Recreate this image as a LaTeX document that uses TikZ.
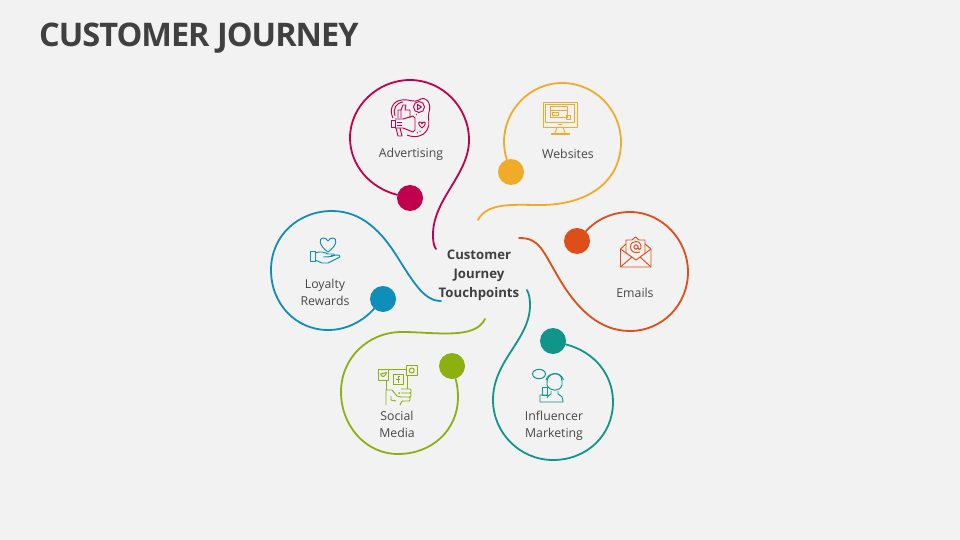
\documentclass[tikz,border=0pt]{standalone}
\usepackage{fontspec}
\setmainfont{Open Sans}
\definecolor{pagebg}{HTML}{F2F2F2}
\definecolor{titlegray}{HTML}{404040}
\definecolor{labelgray}{HTML}{474747}
\definecolor{advred}{HTML}{C0004E}
\definecolor{webyellow}{HTML}{F0AC28}
\definecolor{mailorange}{HTML}{DE4E18}
\definecolor{inflteal}{HTML}{10958A}
\definecolor{socgreen}{HTML}{8CB010}
\definecolor{loyblue}{HTML}{0E8EB8}
\tikzset{
  petal/.style={line width=1.8pt, line cap=round},
  dot/.style={circle, fill=#1, draw=none, minimum size=26pt, inner sep=0pt},
  icon/.style={line width=0.95pt, draw=#1, line join=round},
  lbl/.style={font=\fontsize{12.3}{17}\selectfont, text=labelgray, align=center},
}
\begin{document}
\begin{tikzpicture}[x=1pt, y=-1pt]
    \fill[pagebg] (0,0) rectangle (960,540);
    \node[anchor=base west, inner sep=0pt, font=\fontsize{32.5}{36}\bfseries\addfontfeatures{LetterSpace=-3.1}\selectfont, text=titlegray] (title) at (39,46.5) {CUSTOMER JOURNEY};
    \node[font=\fontsize{13.2}{19}\bfseries\selectfont, text=titlegray, align=center] (center) at (479,275) {Customer\\Journey\\Touchpoints};

    % dots and free ends
    \node[dot=advred] (advdot) at (410,198) {};
    \node[dot=webyellow] (webdot) at (511,172) {};
    \node[dot=mailorange] (maildot) at (577,241) {};
    \node[dot=inflteal] (infldot) at (553,341) {};
    \node[dot=socgreen] (socdot) at (452,366) {};
    \node[dot=loyblue] (loydot) at (383,299) {};
    \coordinate (advend) at (436,249);
    \coordinate (webend) at (478,220);
    \coordinate (mailend) at (519,238);
    \coordinate (inflend) at (527,290);
    \coordinate (socend) at (485,319);
    \coordinate (loyend) at (441,301);

    % petals
    \draw[petal, advred] (advdot) .. controls (370,188) and (350,165) .. (350,138)
        .. controls (350,106) and (378,80) .. (410,80)
        .. controls (442,80) and (469,107) .. (469,140)
        .. controls (469,175) and (432,200) .. (433,236)
        .. controls (433,242) and (434,246) .. (advend);
    \draw[petal, webyellow] (webdot) .. controls (505,154) and (504,148) .. (504,142)
        .. controls (504,110) and (530,83) .. (562,83)
        .. controls (595,83) and (621,110) .. (621,142)
        .. controls (621,180) and (590,205) .. (540,205)
        .. controls (515,205) and (487,202) .. (webend);
    \draw[petal, mailorange] (maildot) .. controls (597,219) and (613,212) .. (630,212)
        .. controls (662,212) and (688,240) .. (688,272)
        .. controls (688,305) and (662,331) .. (630,331)
        .. controls (600,331) and (578,310) .. (560,280)
        .. controls (542,250) and (540,238) .. (mailend);
    \draw[petal, inflteal] (infldot) .. controls (595,352) and (613,375) .. (613,402)
        .. controls (613,435) and (587,460) .. (553,460)
        .. controls (520,460) and (493,433) .. (493,400)
        .. controls (493,360) and (530,340) .. (530,305)
        .. controls (530,298) and (529,294) .. (inflend);
    \draw[petal, socgreen] (socdot) .. controls (457,384) and (458,390) .. (458,397)
        .. controls (458,430) and (432,454) .. (398,454)
        .. controls (365,454) and (341,425) .. (341,392)
        .. controls (341,358) and (368,332) .. (402,332)
        .. controls (435,332) and (475,340) .. (socend);
    \draw[petal, loyblue] (loydot) .. controls (362,322) and (346,330) .. (328,330)
        .. controls (296,330) and (271,304) .. (271,270)
        .. controls (271,236) and (298,211) .. (332,211)
        .. controls (362,211) and (382,232) .. (398,258)
        .. controls (415,285) and (425,301) .. (loyend);

    % labels
    \node[lbl] (advlabel) at (411,154) {Advertising};
    \node[lbl] (weblabel) at (568,154) {Websites};
    \node[lbl] (maillabel) at (635,293) {Emails};
    \node[lbl] (infllabel) at (554,425.5) {Influencer\\Marketing};
    \node[lbl] (soclabel) at (397,424.5) {Social\\Media};
    \node[lbl] (loylabel) at (325,292.5) {Loyalty\\Rewards};

    % advertising icon
    \draw[icon=advred] (393,118) .. controls (389,110) and (392,101) .. (402,100)
        .. controls (410,99) and (414,103) .. (419,100) .. controls (426,95) and (432,104) .. (429,112)
        .. controls (427,118) and (431,124) .. (427,130) .. controls (423,137) and (414,138) .. (407,135);
    \draw[icon=advred] (395,116) .. controls (393,108) and (396,103) .. (403,102);
    \draw[icon=advred] (419,107) circle (5.5);
    \draw[icon=advred] (417.5,104.5) -- (421.5,107) -- (417.5,109.5) -- cycle;
    \draw[icon=advred] (398,118) -- (398,110) -- (401,110) (401,118) -- (401,110) -- (403,105) -- (406,105) -- (405,110) -- (410,110) -- (410,118);
    \draw[icon=advred] (422,128) .. controls (418,125) and (418,122) .. (420,122) .. controls (421,122) and (422,123) .. (422,124)
        .. controls (422,123) and (423,122) .. (424,122) .. controls (426,122) and (426,125) .. (422,128);
    \draw[icon=advred] (391,120) rectangle (395,127);
    \draw[icon=advred] (395,119) -- (403,119) -- (413,116) -- (415,118) -- (415,130) -- (413,132) -- (403,128) -- (395,128);
    \draw[icon=advred] (397,122) -- (402,122) (397,125) -- (402,125);
    \draw[icon=advred] (396,128) -- (398,136) -- (402,136) -- (400,128);
    \draw[icon=advred, dotted] (416,115) -- (419,112) (417,133) -- (421,131);

    % websites icon
    \draw[icon=webyellow] (543,102) rectangle (577,127);
    \draw[icon=webyellow] (545.5,104) rectangle (574.5,122);
    \draw[icon=webyellow] (550,106) rectangle (567,117);
    \draw[icon=webyellow] (550,110) -- (567,110);
    \draw[icon=webyellow] (552,112) rectangle (558,115);
    \draw[icon=webyellow] (566,115) rectangle (570,119);
    \draw[icon=webyellow] (557,127) -- (555,133) (563,127) -- (565,133);
    \draw[icon=webyellow] (551,133) rectangle (569,134);
    \draw[icon=webyellow] (558,124.5) -- (562,124.5);

    % emails icon
    \draw[icon=mailorange] (620.5,249) -- (620.5,267) -- (651,267) -- (651,249) -- (645,244);
    \draw[icon=mailorange] (620.5,249) -- (626,244);
    \draw[icon=mailorange] (626,254) -- (626,240) -- (632,240) -- (635.5,237) -- (639,240) -- (645,240) -- (645,254);
    \draw[icon=mailorange] (620.5,249) -- (636,260) -- (651,249);
    \draw[icon=mailorange] (620.5,267) -- (632,257) (651,267) -- (640,257);
    \draw[icon=mailorange] (640,252) .. controls (634,254) and (630.5,251) .. (630.5,247) .. controls (630.5,243) and (633,241.5) .. (636,241.5)
        .. controls (639,241.5) and (641.5,244) .. (641,248) .. controls (640.5,250) and (638,250) .. (638,248);
    \draw[icon=mailorange] (636,247) circle (2.1);

    % influencer icon
    \draw[icon=inflteal] (539,374) ellipse (6.5 and 4.7);
    \draw[icon=inflteal] (547,383) .. controls (546,372) and (562,370) .. (562,381) -- (562,385)
        .. controls (560,392) and (550,392) .. (547,385) -- cycle;
    \draw[icon=inflteal] (546,380) .. controls (548,372) and (561,371) .. (563.5,380);
    \draw[icon=inflteal] (551,391) -- (551,394) .. controls (549,395) and (547.5,396) .. (547,398)
        (558,391) -- (558,394) .. controls (561,395) and (563,397) .. (563,402) -- (540,402) -- (540,395) -- (547,395);
    \draw[icon=inflteal] (542,387) rectangle (547,395);

    % social icon
    \draw[icon=socgreen] (378.5,369.5) rectangle (388.5,380);
    \draw[icon=socgreen] (393,374) rectangle (403,384);
    \draw[icon=socgreen] (406.5,365.5) rectangle (417,375.5);
    \draw[icon=socgreen] (411.7,370.5) circle (2.5);
    \draw[icon=socgreen] (399.5,376) -- (398,376) -- (398,382.5) (396,379) -- (400,379);
    \draw[icon=socgreen] (380.5,374) .. controls (382,378) and (385,377) .. (386.5,372.5) .. controls (384,373.5) and (382,373.5) .. (380.5,374);
    \draw[icon=socgreen] (389,369) -- (406,369) (386,380) -- (386,390) (407,375.5) -- (407,389);
    \draw[icon=socgreen] (386,405) -- (386,390) -- (392,390) -- (397,396) -- (401,397);
    \draw[icon=socgreen] (391,396) -- (391,400) -- (396,401);
    \draw[icon=socgreen, rounded corners=1pt] (401,389) -- (411,389) -- (411,393) -- (401,393) (401,393) -- (411,393) -- (411,397) -- (401,397) (401,397) -- (410,397) -- (410,401) -- (402,401) -- (400,405);
    \fill[socgreen] (399,393) circle (1);

    % loyalty icon
    \draw[icon=loyblue] (328,252) .. controls (318,245) and (319,238) .. (323,238) .. controls (325,238) and (327,239) .. (328,241)
        .. controls (329,239) and (331,238) .. (333,238) .. controls (337,238) and (338,245) .. (328,252);
    \draw[icon=loyblue] (310,251) rectangle (315,261);
    \draw[icon=loyblue] (315,253) .. controls (320,251) and (324,252) .. (328,254) -- (334,254)
        .. controls (336,256) and (331,257) .. (323,257);
    \draw[icon=loyblue] (331,255.5) -- (339,255) .. controls (341,256) and (340,258) .. (338,258)
        -- (328,263) -- (322,263) -- (315,260);
\end{tikzpicture}
\end{document}
